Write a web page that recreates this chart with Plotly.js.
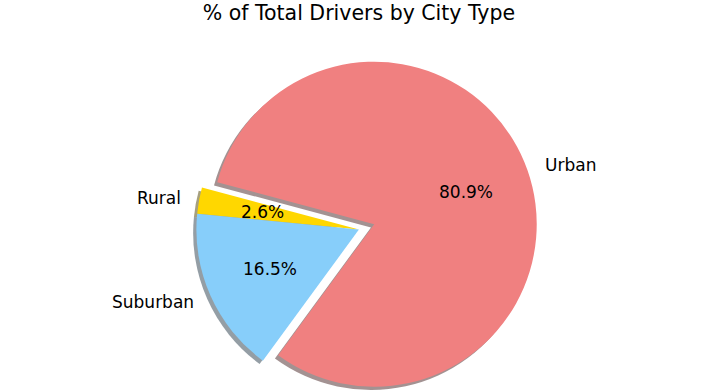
<!DOCTYPE html>
<html><head><meta charset="utf-8">
<script src="https://cdn.plot.ly/plotly-3.0.1.min.js"></script>
<style>html,body{margin:0;padding:0;overflow:hidden;background:#fff}</style>
</head><body><div id="chart" style="width:711px;height:400px"></div>
<script>
// ---- data ----
const cityTypes = ['Rural', 'Suburban', 'Urban'];
const driverPct = [2.6, 16.5, 80.9];
const sliceColors = ['#FFD700', '#87CEFA', '#F08080'];
const explode = [0, 0, 0.1];
const chartTitle = '% of Total Drivers by City Type';

// ---- layout constants ----
const W = 711, H = 400;
const startAngle = 165;          // degrees, counter-clockwise from 3 o'clock
const cx = 358.9, cy = 229.6, R = 162.5;
const shadowOff = 0.02, pctDist = 0.6, labelDist = 1.1;
const FONT = 'DejaVu Sans';

const total = driverPct.reduce((a, b) => a + b, 0);
let theta = startAngle;
const mids = [];
driverPct.forEach(v => { const span = 360 * v / total; mids.push(theta + span / 2); theta += span; });

// plotly draws clockwise; reverse the order so the angles match counter-clockwise layout
const order = driverPct.map((_, i) => i).reverse();
const pv = order.map(i => driverPct[i]);
const pl = order.map(i => cityTypes[i]);

function dom(px, py) { return { x: [(px - R) / W, (px + R) / W], y: [1 - (py + R) / H, 1 - (py - R) / H] }; }
function shade(hex) {
  const r = parseInt(hex.slice(1, 3), 16), g = parseInt(hex.slice(3, 5), 16), b = parseInt(hex.slice(5, 7), 16);
  return 'rgba(' + Math.round(0.3 * r) + ',' + Math.round(0.3 * g) + ',' + Math.round(0.3 * b) + ',0.5)';
}
function center(i) {
  const a = mids[i] * Math.PI / 180;
  return [cx + explode[i] * R * Math.cos(a), cy - explode[i] * R * Math.sin(a)];
}
function pieTrace(i, colorFn, dx, dy) {
  const [px, py] = center(i);
  return {
    type: 'pie', values: pv, labels: pl, sort: false, direction: 'clockwise',
    rotation: 90 - startAngle,
    marker: { colors: order.map(j => j === i ? colorFn(sliceColors[i]) : 'rgba(0,0,0,0)'), line: { width: 0 } },
    textinfo: 'none', hoverinfo: 'skip', showlegend: false,
    domain: dom(px + dx, py + dy)
  };
}
const traces = [];
driverPct.forEach((_, i) => traces.push(pieTrace(i, shade, -shadowOff * R, shadowOff * R)));
driverPct.forEach((_, i) => traces.push(pieTrace(i, c => c, 0, 0)));

const annotations = [];
driverPct.forEach((v, i) => {
  const [px, py] = center(i);
  const a = mids[i] * Math.PI / 180, c = Math.cos(a), s = Math.sin(a);
  annotations.push({ xref: 'paper', yref: 'paper', showarrow: false,
    x: (px + pctDist * R * c) / W, y: 1 - (py - pctDist * R * s) / H,
    xanchor: 'center', yanchor: 'middle', text: (v / total * 100).toFixed(1) + '%',
    font: { family: FONT, size: 17, color: '#000' } });
  annotations.push({ xref: 'paper', yref: 'paper', showarrow: false,
    x: (px + labelDist * R * c) / W, y: 1 - (py - labelDist * R * s) / H,
    xanchor: c > 0 ? 'left' : 'right', yanchor: 'middle', text: cityTypes[i],
    font: { family: FONT, size: 17, color: '#000' } });
});

const layout = {
  width: W, height: H, margin: { l: 0, r: 0, t: 0, b: 0 },
  paper_bgcolor: '#fff', plot_bgcolor: '#fff',
  title: { text: chartTitle, font: { family: FONT, size: 20.5, color: '#000' },
    x: cx / W, xanchor: 'center', xref: 'paper', y: 1 - 12.5 / H, yanchor: 'middle', yref: 'container' },
  annotations: annotations
};
Plotly.newPlot('chart', traces, layout, { displayModeBar: false, staticPlot: true });
</script></body></html>
